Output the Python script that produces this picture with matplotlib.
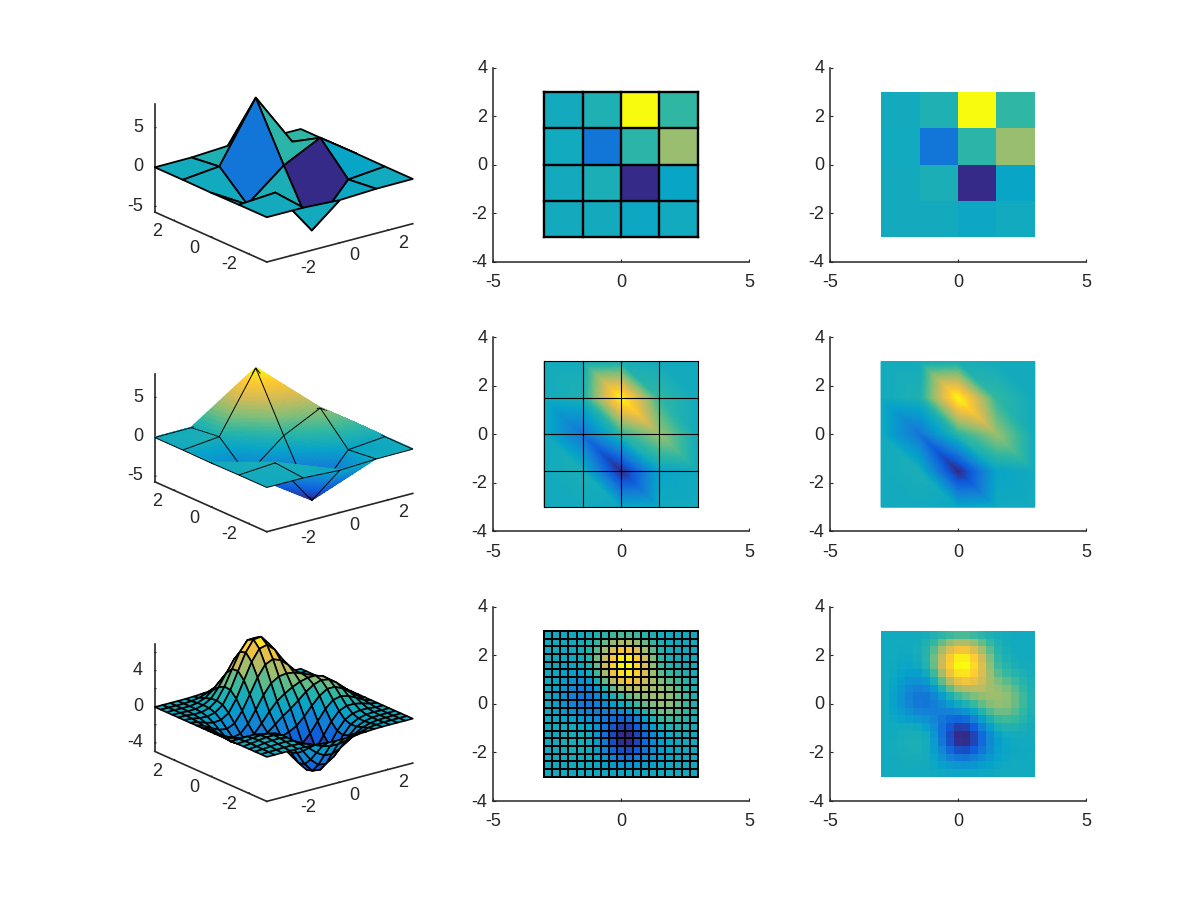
import numpy as np
import matplotlib
matplotlib.use('Agg')
import matplotlib.pyplot as plt
from matplotlib.colors import LinearSegmentedColormap, Normalize
from matplotlib.transforms import ScaledTranslation
from matplotlib.tri import Triangulation, UniformTriRefiner, LinearTriInterpolator
from mpl_toolkits.mplot3d.art3d import Poly3DCollection

plt.rcParams['font.family'] = ['Liberation Sans', 'DejaVu Sans']
plt.rcParams['font.size'] = 13
plt.rcParams['axes.unicode_minus'] = False

INK = '#262626'

x_coarse = [-3, -1.5, 0, 1.5, 3]
z_coarse = [
    [0.00, 0.00, -0.25, -0.03, 0.00],
    [0.00, 0.33, -5.68, -0.44, 0.00],
    [-0.04, -2.77, 0.98, 3.27, 0.03],
    [0.00, 0.48, 7.99, 1.19, 0.00],
    [0.00, 0.03, 0.30, 0.03, 0.00],
]

x_fine = [-3, -2.684, -2.368, -2.053, -1.737, -1.421, -1.105, -0.789, -0.474, -0.158,
          0.158, 0.474, 0.789, 1.105, 1.421, 1.737, 2.053, 2.368, 2.684, 3]
z_fine = [
    [0, 0, .01, .02, .01, -.01, -.05, -.12, -.18, -.22, -.22, -.19, -.13, -.08, -.03, -.01, 0, 0, 0, 0],
    [0, .02, .05, .08, .08, .03, -.19, -.53, -.86, -1.09, -1.12, -.96, -.69, -.40, -.18, -.07, -.02, -.01, -.01, 0],
    [0, .05, .13, .19, .20, .09, -.37, -1.14, -1.89, -2.40, -2.47, -2.12, -1.54, -.91, -.43, -.19, -.07, -.03, -.02, 0],
    [0, .07, .20, .29, .30, .14, -.59, -1.78, -2.94, -3.74, -3.85, -3.29, -2.38, -1.40, -.64, -.27, -.09, -.03, -.03, 0],
    [0, .08, .23, .34, .34, .13, -.81, -2.28, -3.72, -4.70, -4.81, -4.09, -2.91, -1.65, -.69, -.24, -.04, .01, -.02, 0],
    [0, .06, .18, .27, .24, .03, -1.03, -2.50, -3.92, -4.87, -4.92, -4.11, -2.83, -1.48, -.46, 0, .15, .13, .03, 0],
    [0, .01, .06, .05, -.10, -.50, -1.36, -2.50, -3.57, -4.23, -4.15, -3.30, -2.03, -.74, .21, .57, .57, .38, .14, 0],
    [0, -.16, -.37, -.63, -.92, -1.24, -1.74, -2.33, -2.83, -3.05, -2.77, -1.91, -.76, .37, 1.14, 1.34, 1.14, .72, .27, 0],
    [0, -.32, -.80, -1.31, -1.73, -1.95, -2.03, -2.01, -1.87, -1.59, -1.13, -.31, .65, 1.53, 2.08, 2.09, 1.68, 1.04, .41, 0],
    [0, -.44, -1.10, -1.79, -2.29, -2.39, -2.09, -1.51, -.80, -.11, .48, 1.18, 1.90, 2.48, 2.77, 2.61, 2.03, 1.25, .50, 0],
    [0, -.46, -1.17, -1.88, -2.35, -2.33, -1.74, -.77, .31, 1.25, 1.86, 2.36, 2.74, 2.96, 2.98, 2.69, 2.05, 1.25, .50, 0],
    [0, -.39, -1.02, -1.62, -1.95, -1.75, -.87, .45, 1.84, 2.95, 3.47, 3.59, 3.45, 3.14, 2.78, 2.36, 1.74, 1.05, .43, 0],
    [0, -.28, -.75, -1.16, -1.29, -.90, .25, 1.87, 3.51, 4.72, 5.10, 4.76, 4.02, 3.12, 2.35, 1.80, 1.25, .73, .31, 0],
    [0, -.15, -.45, -.66, -.59, -.04, 1.31, 3.14, 4.94, 6.18, 6.40, 5.65, 4.37, 2.96, 1.83, 1.18, .73, .40, .19, 0],
    [0, -.06, -.22, -.27, -.07, .57, 1.99, 3.89, 5.71, 6.92, 7.01, 6.02, 4.42, 2.70, 1.37, .69, .32, .15, .09, 0],
    [0, -.01, -.11, -.09, .14, .76, 2.08, 3.82, 5.48, 6.57, 6.60, 5.59, 4.02, 2.34, 1.06, .42, .13, .03, .04, 0],
    [0, 0, -.05, -.02, .19, .68, 1.71, 3.06, 4.34, 5.18, 5.19, 4.37, 3.11, 1.77, .75, .25, .03, -.02, .02, 0],
    [0, .01, -.02, 0, .13, .45, 1.10, 1.96, 2.77, 3.30, 3.30, 2.77, 1.96, 1.11, .46, .14, .01, -.02, .01, 0],
    [0, 0, -.01, -.01, .05, .19, .49, .87, 1.24, 1.48, 1.48, 1.25, .89, .51, .21, .07, .01, 0, 0, 0],
    [0, 0, 0, 0, .01, .04, .09, .16, .22, .26, .26, .22, .16, .09, .04, .01, 0, 0, 0, 0],
]

parula_stops = ['#352a87', '#0f5cdd', '#1481d6', '#06a4ca', '#2eb7a4',
                '#87bf77', '#d1bb59', '#fec832', '#f9fb0e']
parula = LinearSegmentedColormap.from_list('parula', parula_stops, N=256)

x5 = np.array(x_coarse, dtype=float)
z5 = np.array(z_coarse, dtype=float)
x20 = np.array(x_fine, dtype=float)
z20 = np.array(z_fine, dtype=float)
norm5 = Normalize(z5.min(), z5.max())
norm20 = Normalize(z20.min(), z20.max())

ROW_BOTTOM = [0.7093, 0.4096, 0.11]
COL_LEFT = [0.13, 0.4108, 0.6916]
WIDTH, HEIGHT = 0.2134, 0.2157

fig = plt.figure(figsize=(12, 9), dpi=100)


def triangulate(x, z, subdiv):
    # split every cell along the same diagonal, then refine for colormap shading
    n = len(x)
    X, Y = np.meshgrid(x, x)
    tris = []
    for j in range(n - 1):
        for i in range(n - 1):
            a, b = j * n + i, j * n + i + 1
            c, d = (j + 1) * n + i, (j + 1) * n + i + 1
            tris.append([a, b, c])
            tris.append([b, d, c])
    tri = Triangulation(X.ravel(), Y.ravel(), tris)
    interp = LinearTriInterpolator(tri, z.ravel())
    return UniformTriRefiner(tri).refine_field(z.ravel(), triinterpolator=interp, subdiv=subdiv)


def axes2d(row, col):
    ax = fig.add_axes([COL_LEFT[col], ROW_BOTTOM[row], WIDTH, HEIGHT])
    ax.set_xlim(-5, 5)
    ax.set_ylim(-4, 4)
    ax.set_xticks([-5, 0, 5])
    ax.set_yticks([-4, -2, 0, 2, 4])
    ax.tick_params(direction='in', length=2.5, width=0.8, color=INK, labelcolor=INK)
    ax.tick_params(axis='x', pad=9)
    ax.tick_params(axis='y', pad=4)
    nudge = ScaledTranslation(0, 0.7 / 72, fig.dpi_scale_trans)
    for lab in ax.get_yticklabels():
        lab.set_transform(lab.get_transform() + nudge)
    ax.spines['top'].set_visible(False)
    ax.spines['right'].set_visible(False)
    ax.spines['left'].set_color(INK)
    ax.spines['bottom'].set_color(INK)
    ax.spines['left'].set_linewidth(1.1)
    ax.spines['bottom'].set_linewidth(1.1)
    return ax


def axes3d(row, z, zticks, zlabels):
    # box centre sits at a fixed place relative to the subplot slot
    side = 276 / 1200
    sideh = 276 / 900
    cx = 283.8 / 1200
    cy = ROW_BOTTOM[row] + (261.6 - 164) / 900
    left = cx - 0.5135 * side
    bottom = cy - 0.5135 * sideh
    ax = fig.add_axes([left, bottom, side, sideh], projection='3d', proj_type='ortho')
    ax.view_init(elev=20, azim=-127.5)
    ax.set_box_aspect((1, 1, 0.623))
    ax.set_xlim(-3, 3, view_margin=0)
    ax.set_ylim(-3, 3, view_margin=0)
    ax.set_zlim(z.min(), z.max(), view_margin=0)
    ax.set_xticks([-2, 0, 2])
    ax.set_yticks([-2, 0, 2])
    ax.set_zticks(zticks)
    ax.set_xticklabels(['-2', '0', '2'], ha='left', va='center')
    ax.set_yticklabels(['-2', '0', '2'], ha='right', va='center')
    ax.set_zticklabels(zlabels, ha='right', va='center')
    ax.grid(False)
    ax.patch.set_alpha(0)
    for axis in (ax.xaxis, ax.yaxis, ax.zaxis):
        axis.set_pane_color((1, 1, 1, 0))
        axis.pane.set_edgecolor((1, 1, 1, 0))
        axis.line.set_color(INK)
        axis.line.set_linewidth(1.2)
        axis._axinfo['tick']['inward_factor'] = 0.0
        axis._axinfo['tick']['outward_factor'] = 0.1
        axis._axinfo['tick']['color'] = INK
        axis._axinfo['tick']['linewidth'] = {True: 0.8, False: 0.5}
    ax.tick_params(colors=INK, labelcolor=INK)
    ax.tick_params(axis='x', pad=0.5)
    ax.tick_params(axis='y', pad=0)
    ax.tick_params(axis='z', pad=-3.3)
    return ax


def surf_flat(ax, x, z, norm, lw):
    X, Y = np.meshgrid(x, x)
    ax.plot_surface(X, Y, z, rstride=1, cstride=1, facecolors=parula(norm(z)),
                    edgecolor='k', linewidth=lw, shade=False, antialiased=True)


def surf_interp(ax, x, z, norm):
    rt, rz = triangulate(x, z, 4)
    pts = np.column_stack([rt.x, rt.y, rz])
    verts = list(pts[rt.triangles])
    cols = list(parula(norm(rz[rt.triangles].mean(axis=1))))
    # grid lines go in the same collection so that they hide behind nearer facets
    lift = np.array([-0.11, -0.14, 0.17])
    X, Y = np.meshgrid(x, x)
    grid = np.dstack([X, Y, z])
    for g in (grid, grid.transpose(1, 0, 2)):
        for line in g:
            for p, q in zip(line[:-1], line[1:]):
                knots = np.linspace(p, q, 17) + lift
                for s, t in zip(knots[:-1], knots[1:]):
                    verts.append(np.array([s, t, s]))
                    cols.append((0, 0, 0, 1))
    coll = Poly3DCollection(verts, facecolors=cols, edgecolors=cols, linewidths=0.7)
    ax.add_collection3d(coll)


def grid_lines(ax, x, lw):
    for v in x:
        ax.plot([v, v], [x[0], x[-1]], color='k', lw=lw, solid_capstyle='projecting')
        ax.plot([x[0], x[-1]], [v, v], color='k', lw=lw, solid_capstyle='projecting')


# row 1
ax = axes3d(0, z5, [-5, 0, 5], ['-5', '0', '5'])
surf_flat(ax, x5, z5, norm5, 1.3)
ax = axes2d(0, 1)
ax.pcolormesh(x5, x5, z5[:-1, :-1], cmap=parula, norm=norm5, shading='flat')
grid_lines(ax, x5, 1.7)
ax = axes2d(0, 2)
ax.pcolormesh(x5, x5, z5[:-1, :-1], cmap=parula, norm=norm5, shading='flat')

# row 2
ax = axes3d(1, z5, [-5, 0, 5], ['-5', '0', '5'])
surf_interp(ax, x5, z5, norm5)
ax = axes2d(1, 1)
rt, rz = triangulate(x5, z5, 5)
ax.tripcolor(rt, rz, cmap=parula, norm=norm5, shading='gouraud')
grid_lines(ax, x5, 0.8)
ax = axes2d(1, 2)
ax.tripcolor(rt, rz, cmap=parula, norm=norm5, shading='gouraud')

# row 3
ax = axes3d(2, z20, [-4, -2, 0, 2, 4, 6], ['-4', '', '0', '', '4', ''])
surf_flat(ax, x20, z20, norm20, 1.2)
ax = axes2d(2, 1)
ax.pcolormesh(x20, x20, z20[:-1, :-1], cmap=parula, norm=norm20, shading='flat')
grid_lines(ax, x20, 1.45)
ax = axes2d(2, 2)
ax.pcolormesh(x20, x20, z20[:-1, :-1], cmap=parula, norm=norm20, shading='flat')

fig.savefig('out.png', dpi=100)
